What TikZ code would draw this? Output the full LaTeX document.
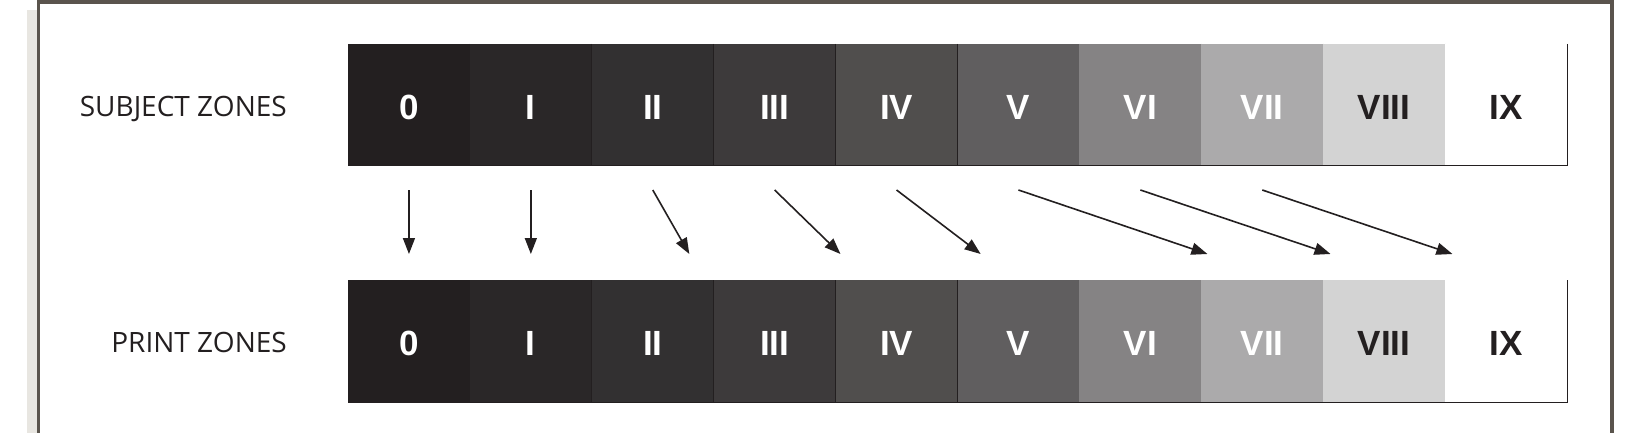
\documentclass[tikz,border=0pt]{standalone}
\usepackage{fontspec}
\setmainfont{Liberation Sans}
\newfontfamily\labelfont{Open Sans}
\newfontfamily\numfont{Liberation Sans}
\usetikzlibrary{arrows.meta,calc}
\definecolor{ink}{HTML}{231F20}
\definecolor{frame}{HTML}{5A544D}
\definecolor{strip}{HTML}{E8E6E1}
\definecolor{z0}{HTML}{231F20}
\definecolor{z1}{HTML}{2A2728}
\definecolor{z2}{HTML}{323031}
\definecolor{z3}{HTML}{3D3A3B}
\definecolor{z4}{HTML}{504E4D}
\definecolor{z5}{HTML}{605E5F}
\definecolor{z6}{HTML}{858384}
\definecolor{z7}{HTML}{ABAAAB}
\definecolor{z8}{HTML}{D3D3D3}
\definecolor{z9}{HTML}{FFFFFF}
\tikzset{
  zonebox/.style={rectangle, inner sep=0pt, outer sep=0pt, minimum width=121.9pt, anchor=north west},
  zonenum/.style={font=\numfont\bfseries\fontsize{35}{35}\selectfont, inner sep=0pt, anchor=base},
  rowlabel/.style={font=\labelfont\fontsize{28}{28}\selectfont, text=ink, inner sep=0pt, anchor=base east},
  edge/.style={draw=ink, line width=1pt},
  zonearrow/.style={draw=ink, line width=1.6pt, -{Triangle[length=16pt,width=12pt]}}
}
\begin{document}
\begin{tikzpicture}[x=1pt,y=-1pt]
\useasboundingbox (0,0) rectangle (1636,433);
\fill[white] (0,0) rectangle (1636,433);
% frame
\fill[strip] (27,10) rectangle (37.3,433);
\fill[frame] (37.3,0) rectangle (1614,4.2);
\fill[frame] (37.3,0) rectangle (39.5,433);
\fill[frame] (1610,0) rectangle (1614,433);
% labels
\node[rowlabel] (lsub) at (287,117) {SUBJECT ZONES};
\node[rowlabel] (lpri) at (287,352.7) {PRINT ZONES};
% boxes
\foreach \i/\r/\tc in {0/0/white,1/I/white,2/II/white,3/III/white,4/IV/white,5/V/white,6/VI/white,7/VII/white,8/VIII/ink,9/IX/ink}{
  \node[zonebox, fill=z\i, minimum height=122pt] (s\i) at (348+\i*121.9,44) {};
  \node[zonebox, fill=z\i, minimum height=122.7pt] (p\i) at (348+\i*121.9,280) {};
  \node[zonenum, text=\tc] (sn\i) at ($(s\i.south)+(0,-46)$) {\r};
  \node[zonenum, text=\tc] (pn\i) at ($(p\i.south)+(0,-47.5)$) {\r};
  \draw[edge] (s\i.north east) -- (s\i.south east) -- (s\i.south west);
  \draw[edge] (p\i.north east) -- (p\i.south east) -- (p\i.south west);
}
% arrows
\foreach \i/\f in {0/0.5,1/1.5,2/2.8,3/4.04,4/5.19,5/7.05,6/8.06,7/9.06}{
  \coordinate (a\i) at ($(s\i.south)+(0,24)$);
  \coordinate (b\i) at ($(p0.north west)+(\f*121.9,-26)$);
  \draw[zonearrow] (a\i) -- (b\i);
}
\end{tikzpicture}
\end{document}
